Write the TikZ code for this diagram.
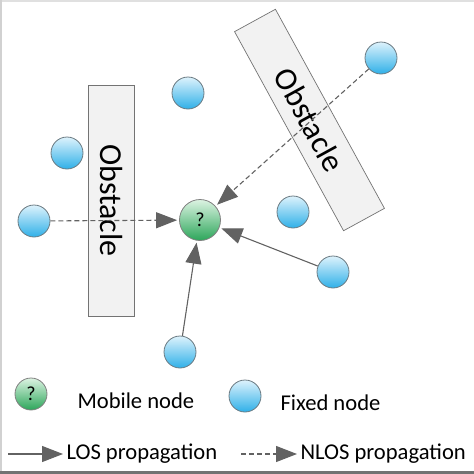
\documentclass[tikz,border=0pt]{standalone}
\usepackage{fontspec}
\setmainfont{Carlito}
\usetikzlibrary{arrows.meta,positioning}
\definecolor{fixtop}{HTML}{DDF2FC}
\definecolor{fixbot}{HTML}{2FB0E8}
\definecolor{mobtop}{HTML}{DCF3E2}
\definecolor{mobbot}{HTML}{2CA65A}
\definecolor{arrowgray}{HTML}{626262}
\tikzset{
  fixednode/.style={circle,minimum size=32pt,inner sep=0pt,draw=black!60!cyan!50!gray,line width=0.8pt,top color=fixtop,bottom color=fixbot},
  mobilenode/.style={circle,minimum size=41pt,inner sep=0pt,draw=black!50,line width=0.8pt,top color=mobtop,bottom color=mobbot,font=\fontsize{20}{20}\selectfont},
  obstaclebox/.style={rectangle,draw=black!55,line width=0.7pt,fill=black!5,inner sep=0pt,font=\fontsize{32}{32}\selectfont},
  los/.style={draw=arrowgray,line width=1.1pt,-{Triangle[length=21pt,width=16pt]},shorten >=2pt},
  nlos/.style={los,dash pattern=on 5pt off 3pt}
}
\begin{document}
\begin{tikzpicture}[x=1pt,y=-1pt]
\useasboundingbox (0,0) rectangle (474,474);
% frame of the figure
\fill[black!12] (0,0) rectangle (474,2);
\fill[black!18] (0,0) rectangle (2,474);
\fill[black!55] (0,471) rectangle (474,474);
% obstacles
\node[obstaclebox,minimum width=231pt,minimum height=46pt,rotate=-90] (obsL) at (111,200.5) {Obstacle};
\node[obstaclebox,minimum width=227pt,minimum height=46.6pt,rotate=-61.3] (obsR) at (309.5,120) {Obstacle};
% nodes
\node[mobilenode] (mob) at (200,220) {?};
\node[fixednode] (fixA) at (188,93) {};
\node[fixednode] (fixB) at (67,153) {};
\node[fixednode] (fixC) at (34,221) {};
\node[fixednode] (fixD) at (293,212) {};
\node[fixednode] (fixE) at (333,272) {};
\node[fixednode] (fixF) at (180,352) {};
\node[fixednode] (fixG) at (381,58) {};
% propagation
\draw[nlos] (fixC) -- (mob);
\draw[nlos] (fixG) -- (mob);
\draw[los] (fixE) -- (mob);
\draw[los] (fixF) -- (mob);
% legend
\node[mobilenode,minimum size=32pt] (legMob) at (31,394) {?};
\node[anchor=west,font=\fontsize{22.6}{22.6}\selectfont] (legMobTxt) at (74,401) {Mobile node};
\node[fixednode] (legFix) at (245,396) {};
\node[anchor=west,font=\fontsize{22.6}{22.6}\selectfont] (legFixTxt) at (277,403) {Fixed node};
\coordinate (losA) at (8,454);
\node[anchor=west,font=\fontsize{22.6}{22.6}\selectfont] (losTxt) at (63,454) {LOS propagation};
\draw[los,shorten >=0pt] (losA) -- (losTxt.west);
\coordinate (nlosA) at (241,454);
\node[anchor=west,font=\fontsize{22.6}{22.6}\selectfont] (nlosTxt) at (297,454) {NLOS propagation};
\draw[nlos,shorten >=0pt] (nlosA) -- (nlosTxt.west);
\end{tikzpicture}
\end{document}
